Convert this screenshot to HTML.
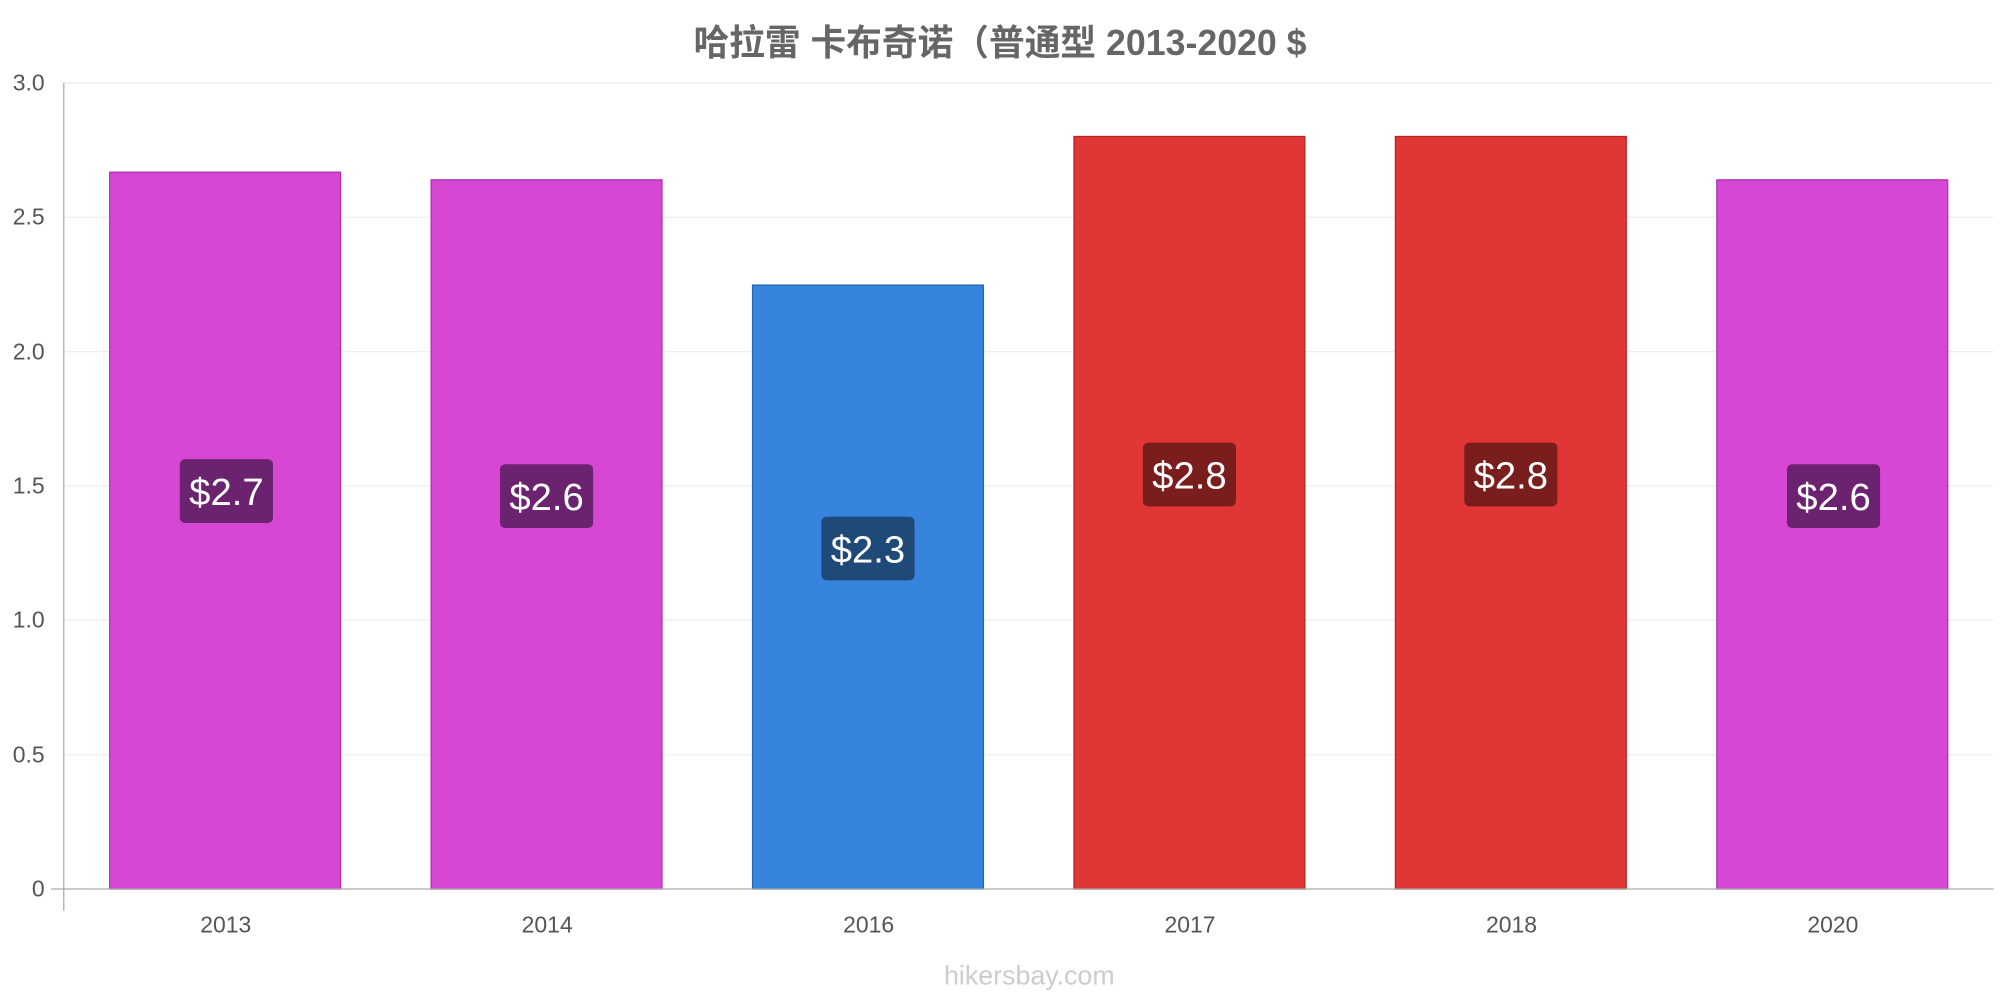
<!DOCTYPE html>
<html><head><meta charset="utf-8"><style>
html,body{margin:0;padding:0;background:#fff;}
svg{display:block;}
text{font-family:"Liberation Sans","Noto Sans CJK SC",sans-serif;}
</style></head><body>
<svg width="2000" height="1000" viewBox="0 0 1568 784" xmlns="http://www.w3.org/2000/svg">
<text x="784" y="43" text-anchor="middle" font-size="28" font-weight="bold" fill="#666">哈拉雷 卡布奇诺（普通型 2013-2020 $</text>
<g stroke="#eee" stroke-width="1">
<line x1="50" x2="1563" y1="65" y2="65"/>
<line x1="50" x2="1563" y1="170.3" y2="170.3"/>
<line x1="50" x2="1563" y1="275.7" y2="275.7"/>
<line x1="50" x2="1563" y1="381" y2="381"/>
<line x1="50" x2="1563" y1="486.3" y2="486.3"/>
<line x1="50" x2="1563" y1="591.7" y2="591.7"/>
</g>
<g font-size="18" fill="#555" text-anchor="end">
<text x="35" y="71">3.0</text>
<text x="35" y="176">2.5</text>
<text x="35" y="282">2.0</text>
<text x="35" y="387">1.5</text>
<text x="35" y="492">1.0</text>
<text x="35" y="598">0.5</text>
<text x="35" y="703">0</text>
</g>
<g stroke-width="1">
<rect x="86" y="135" width="181" height="562" fill="#d647d3" stroke="#b22fb0"/>
<rect x="338" y="141" width="181" height="556" fill="#d647d3" stroke="#b22fb0"/>
<rect x="590" y="223.5" width="181" height="473.5" fill="#3784de" stroke="#2766b5"/>
<rect x="842" y="107" width="181" height="590" fill="#e03636" stroke="#b82525"/>
<rect x="1094" y="107" width="181" height="590" fill="#e03636" stroke="#b82525"/>
<rect x="1346" y="141" width="181" height="556" fill="#d647d3" stroke="#b22fb0"/>
</g>
<line x1="50" x2="50" y1="65" y2="714" stroke="#aaa"/>
<line x1="40" x2="1563" y1="697" y2="697" stroke="#aaa"/>
<g font-size="30" fill="#fff" text-anchor="middle">
<rect x="141" y="360" width="73" height="50" rx="4" fill="#6b2370"/><text x="177.5" y="396">$2.7</text>
<rect x="392" y="364" width="73" height="50" rx="4" fill="#6b2370"/><text x="428.5" y="400">$2.6</text>
<rect x="644" y="405" width="73" height="50" rx="4" fill="#1f4a78"/><text x="680.5" y="441">$2.3</text>
<rect x="896" y="347" width="73" height="50" rx="4" fill="#7a1d1d"/><text x="932.5" y="383">$2.8</text>
<rect x="1148" y="347" width="73" height="50" rx="4" fill="#7a1d1d"/><text x="1184.5" y="383">$2.8</text>
<rect x="1401" y="364" width="73" height="50" rx="4" fill="#6b2370"/><text x="1437.5" y="400">$2.6</text>
</g>
<g font-size="18" fill="#555" text-anchor="middle">
<text x="177" y="731">2013</text>
<text x="429" y="731">2014</text>
<text x="681" y="731">2016</text>
<text x="933" y="731">2017</text>
<text x="1185" y="731">2018</text>
<text x="1437" y="731">2020</text>
</g>
<text x="807" y="772" text-anchor="middle" font-size="21" fill="#ccc">hikersbay.com</text>
</svg>
</body></html>
